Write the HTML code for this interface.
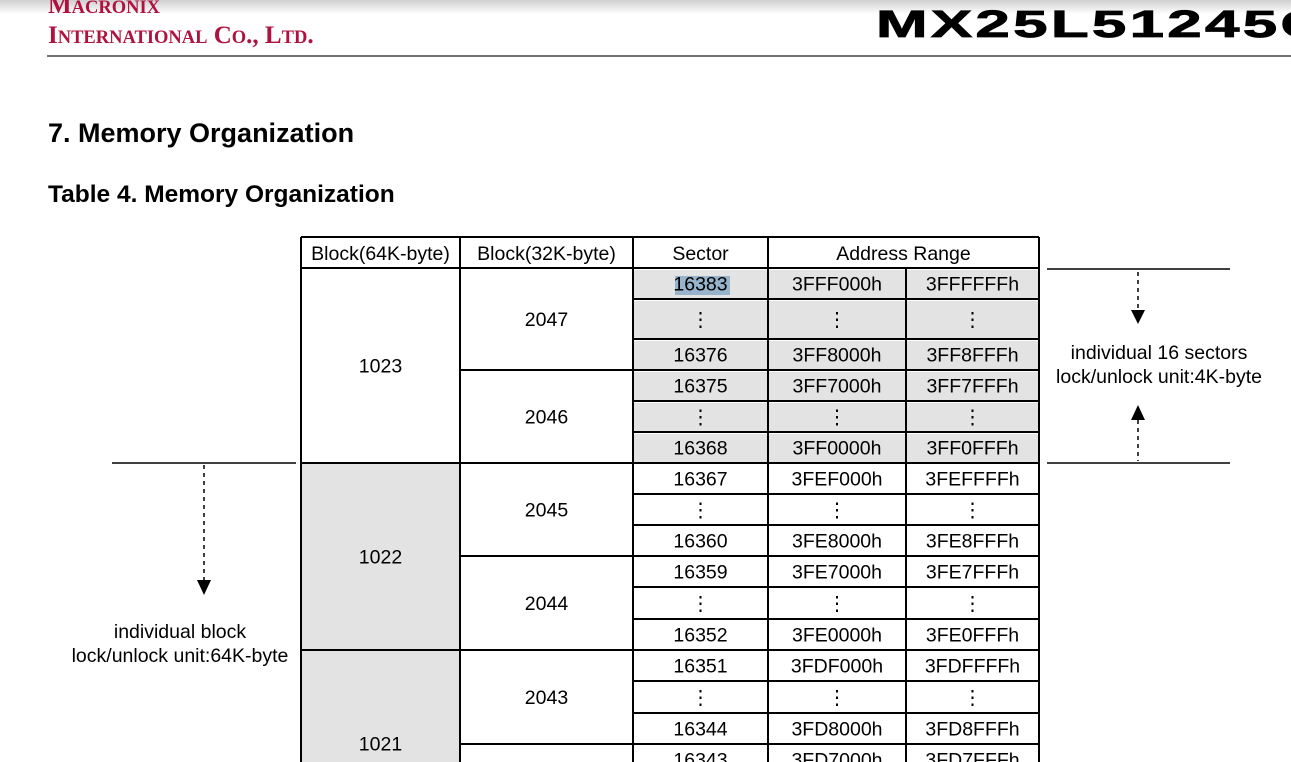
<!DOCTYPE html>
<html><head><meta charset="utf-8"><style>
html,body{margin:0;padding:0;background:#fff;width:1291px;height:762px;overflow:hidden}
svg{display:block}
</style></head><body>
<svg id="pg" width="1291" height="762" viewBox="0 0 1291 762" xmlns="http://www.w3.org/2000/svg">
<defs><linearGradient id="sh" x1="0" y1="0" x2="0" y2="1"><stop offset="0" stop-color="#cfcfcf"/><stop offset="1" stop-color="#fff"/></linearGradient></defs>
<rect x="0" y="0" width="1291" height="14" fill="url(#sh)"/>
<g font-family="Liberation Serif, serif" font-weight="bold" fill="#b0123f">
<text x="48" y="13" font-size="25">M<tspan font-size="18.5">ACRONIX</tspan></text>
<text x="48" y="43" font-size="25">I<tspan font-size="18.5">NTERNATIONAL</tspan> C<tspan font-size="18.5">O</tspan>., L<tspan font-size="18.5">TD</tspan>.</text>
</g>
<text transform="translate(876,37) scale(1.63,1)" x="0" y="0" font-family="Liberation Sans, sans-serif" font-weight="bold" font-size="38" letter-spacing="2" stroke="#000" stroke-width="0.8" fill="#000">MX25L51245G</text>
<line x1="47" y1="56" x2="1291" y2="56" stroke="#444" stroke-width="1.5"/>
<text x="48" y="142" font-family="Liberation Sans, sans-serif" font-weight="bold" font-size="27">7. Memory Organization</text>
<text x="48" y="202" font-family="Liberation Sans, sans-serif" font-weight="bold" font-size="24.5">Table 4. Memory Organization</text>
<g id="tbl" font-family="Liberation Sans, sans-serif" font-size="19.5" fill="#000" text-anchor="middle"></g>
<g stroke="#000">
<line x1="1047" y1="269" x2="1230" y2="269" stroke-width="1.5"/>
<line x1="1047" y1="463" x2="1230" y2="463" stroke-width="1.5"/>
<line x1="1138" y1="272" x2="1138" y2="312" stroke-dasharray="4,4" stroke-width="1.5"/>
<polygon points="1131,310 1145,310 1138,324" fill="#000" stroke="none"/>
<polygon points="1131,420 1145,420 1138,405" fill="#000" stroke="none"/>
<line x1="1138" y1="420" x2="1138" y2="461" stroke-dasharray="4,4" stroke-width="1.5"/>
<text x="1159" y="359" stroke="none" font-family="Liberation Sans, sans-serif" font-size="19.5" text-anchor="middle">individual 16 sectors</text>
<text x="1159" y="383" stroke="none" font-family="Liberation Sans, sans-serif" font-size="19.5" text-anchor="middle">lock/unlock unit:4K-byte</text>
</g>
<g stroke="#000">
<line x1="112" y1="463" x2="296" y2="463" stroke-width="1.5"/>
<line x1="204" y1="465" x2="204" y2="582" stroke-dasharray="4,4" stroke-width="1.5"/>
<polygon points="197,580 211,580 204,595" fill="#000" stroke="none"/>
<text x="180" y="638" stroke="none" font-family="Liberation Sans, sans-serif" font-size="19.5" text-anchor="middle">individual block</text>
<text x="180" y="662" stroke="none" font-family="Liberation Sans, sans-serif" font-size="19.5" text-anchor="middle">lock/unlock unit:64K-byte</text>
</g>
</svg>
<script>
const headers = ["Block(64K-byte)", "Block(32K-byte)", "Sector", "Address Range"];
const sectors = ["16383","⋮","16376","16375","⋮","16368","16367","⋮","16360","16359","⋮","16352","16351","⋮","16344","16343"];
const startAddr = ["3FFF000h","⋮","3FF8000h","3FF7000h","⋮","3FF0000h","3FEF000h","⋮","3FE8000h","3FE7000h","⋮","3FE0000h","3FDF000h","⋮","3FD8000h","3FD7000h"];
const endAddr = ["3FFFFFFh","⋮","3FF8FFFh","3FF7FFFh","⋮","3FF0FFFh","3FEFFFFh","⋮","3FE8FFFh","3FE7FFFh","⋮","3FE0FFFh","3FDFFFFh","⋮","3FD8FFFh","3FD7FFFh"];
const blocks32 = ["2047","2046","2045","2044","2043","2042"];
const blocks64 = ["1023","1022","1021"];
const rowY = [268,299,339,370,401,432,463,494,525,556,587,619,650,681,713,744,775];
const cols = [301,460,633,768,906,1039];
const greySectorRows = 6;

const NS="http://www.w3.org/2000/svg";
const g=document.getElementById('tbl');
function el(t,a){const e=document.createElementNS(NS,t);for(const k in a)e.setAttribute(k,a[k]);g.appendChild(e);return e;}
function txt(x,y,s){const t=el('text',{x:x,y:y});t.textContent=s;return t;}
const tblTop=237, tblBottom=762;
for(let i=0;i<greySectorRows;i++){
  const r=el('rect',{x:cols[2]+1,y:rowY[i]+2,width:cols[5]-cols[2]-2,height:rowY[i+1]-rowY[i]-3,fill:'#e3e3e3'});
  
  
}
for(let b=1;b<blocks64.length;b++){
  const y0=rowY[b*6];
  const y1=(b==blocks64.length-1)?tblBottom:rowY[(b+1)*6];
  const r=el('rect',{x:cols[0]+1,y:y0+1,width:cols[1]-cols[0]-2,height:y1-y0-1,fill:'#e3e3e3'});
  
  
}
const sel=el('rect',{x:675,y:276,width:55,height:19,fill:'#98b4cc'});


el('line',{x1:cols[0],y1:tblTop,x2:cols[5],y2:tblTop,stroke:'#000','stroke-width':2});
el('line',{x1:cols[0],y1:rowY[0],x2:cols[5],y2:rowY[0],stroke:'#000','stroke-width':2});
const hx=[(cols[0]+cols[1])/2,(cols[1]+cols[2])/2,(cols[2]+cols[3])/2,(cols[3]+cols[5])/2];
headers.forEach((h,i)=>{const t=txt(hx[i],260,h);
  
  });
[0,1,2,3,5].forEach(i=>el('line',{x1:cols[i],y1:tblTop,x2:cols[i],y2:tblBottom,stroke:'#000','stroke-width':2}));
el('line',{x1:cols[4],y1:rowY[0],x2:cols[4],y2:tblBottom,stroke:'#000','stroke-width':2});
for(let i=0;i<sectors.length;i++){
  const y0=rowY[i], y1=rowY[i+1];
  if(y1<tblBottom) el('line',{x1:cols[2],y1:y1,x2:cols[5],y2:y1,stroke:'#000','stroke-width':2});
  const cy=(y0+y1)/2+7;
  const a=txt((cols[2]+cols[3])/2,cy,sectors[i]);
  
  
  const b=txt((cols[3]+cols[4])/2,cy,startAddr[i]);
  
  
  const c=txt((cols[4]+cols[5])/2,cy,endAddr[i]);
  
  
}
for(let b=0;b<blocks32.length;b++){
  const i0=b*3; if(i0+3>=rowY.length)break;
  const y0=rowY[i0], y1=rowY[i0+3];
  el('line',{x1:cols[1],y1:y1,x2:cols[2],y2:y1,stroke:'#000','stroke-width':2});
  const t=txt((cols[1]+cols[2])/2,(y0+y1)/2+7,blocks32[b]);
  
  
}
for(let b=0;b<blocks64.length;b++){
  const y0=rowY[b*6]; const y1=b*6+6<rowY.length?rowY[b*6+6]:837;
  if(b*6+6<rowY.length) el('line',{x1:cols[0],y1:y1,x2:cols[1],y2:y1,stroke:'#000','stroke-width':2});
  const t=txt((cols[0]+cols[1])/2,(y0+y1)/2+7,blocks64[b]);
  
  
}
</script>
</body></html>
